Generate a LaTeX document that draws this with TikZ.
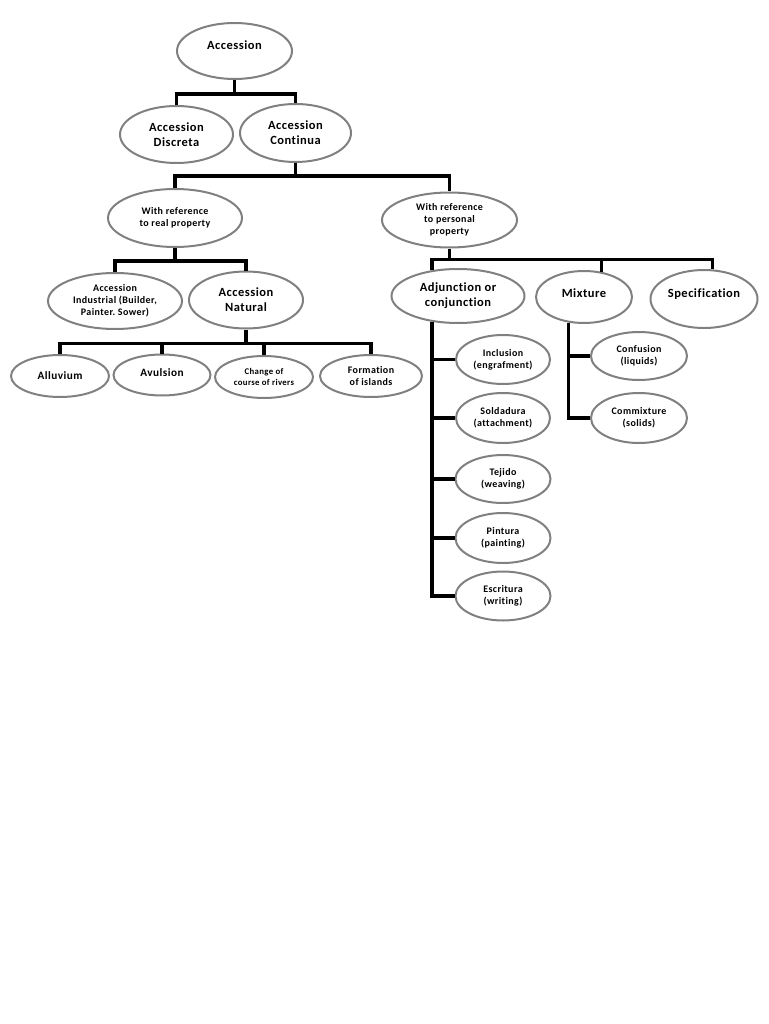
\documentclass[tikz,border=0pt]{standalone}
\usepackage{fontspec}
\setmainfont{Carlito}[LetterSpace=4, Ligatures={NoCommon}]
\usetikzlibrary{shapes.geometric}
\begin{document}
\begin{tikzpicture}[x=0.8pt, y=-0.8pt,
    oval/.style={draw=black!50, line width=1.6pt, ellipse, inner sep=0pt, align=center},
    sz/.style 2 args={minimum width=#1*0.8pt, minimum height=#2*0.8pt},
    big/.style={font=\bfseries\fontsize{10}{12}\selectfont},
    mid/.style={font=\bfseries\fontsize{8}{9.5}\selectfont},
    small/.style={font=\bfseries\fontsize{7}{8.5}\selectfont},
    conn/.style={draw=black, line width=2.8pt}]
      \useasboundingbox (0,0) rectangle (768,1024);
      \node[oval, big, sz={115}{56}, text depth=9pt] (acc) at (234.5,51) {Accession};
      \node[oval, big, sz={113}{57}] (disc) at (176.5,134.5) {Accession\\Discreta};
      \node[oval, big, sz={111}{58}] (cont) at (295.5,133) {Accession\\Continua};
      \node[oval, mid, sz={134}{58}] (real) at (175,218) {With reference\\to real property};
      \node[oval, mid, sz={135}{55}] (pers) at (449.5,220) {With reference\\to personal\\property};
      \node[oval, mid, sz={134}{56}] (ind) at (115,301) {Accession\\Industrial (Builder,\\Painter.\ Sower)};
      \node[oval, big, sz={114}{57}] (nat) at (246,300) {Accession\\Natural};
      \node[oval, big, sz={98}{42}, font=\bfseries\fontsize{9}{11}\selectfont] (allu) at (60,376) {Alluvium};
      \node[oval, big, sz={97}{41}, font=\bfseries\fontsize{9}{11}\selectfont, text depth=4pt] (avul) at (162,375) {Avulsion};
      \node[oval, small, sz={98}{42}] (chg) at (264,377) {Change of\\course of rivers};
      \node[oval, mid, sz={102}{42}] (form) at (371,376) {Formation\\of islands};
      \node[oval, big, sz={133}{54}] (adj) at (458,296) {Adjunction or\\conjunction};
      \node[oval, big, sz={96}{52}, text depth=6pt] (mix) at (584,297) {Mixture};
      \node[oval, big, sz={107}{58}, text depth=9pt] (spec) at (704,299) {Specification};
      \node[oval, mid, sz={94}{49}] (incl) at (503,359.5) {Inclusion\\(engrafment)};
      \node[oval, mid, sz={94}{50}] (sold) at (503,418) {Soldadura\\(attachment)};
      \node[oval, mid, sz={95}{48}] (tej) at (503,479) {Tejido\\(weaving)};
      \node[oval, mid, sz={95}{50}] (pint) at (503,538) {Pintura\\(painting)};
      \node[oval, mid, sz={95}{49}] (escr) at (503,596) {Escritura\\(writing)};
      \node[oval, mid, sz={96}{48}] (conf) at (639,356) {Confusion\\(liquids)};
      \node[oval, mid, sz={96}{50}] (comm) at (639,418) {Commixture\\(solids)};
      \draw[conn] (acc.south) -- ++(0,14) coordinate (j1) -| (disc.north);
      \draw[conn] (j1) -| (cont.north);
      \draw[conn] (cont.south) -- ++(0,13) coordinate (j2) -| (real.north);
      \draw[conn] (j2) -| (pers.north);
      \draw[conn] (real.south) -- ++(0,13) coordinate (j3) -| (ind.north);
      \draw[conn] (j3) -| (nat.north);
      \draw[conn] (nat.south) -- ++(0,14) coordinate (j4) -| (allu.north);
      \draw[conn] (j4) -| (avul.north);
      \draw[conn] (j4) -| (chg.north);
      \draw[conn] (j4) -| (form.north);
      \draw[conn] (pers.south) -- ++(0,11) coordinate (j5) -| (adj.135);
      \draw[conn] (j5) -| (mix.55);
      \draw[conn] (j5) -| (spec.74);
      \draw[conn] (adj.225) |- (escr.west);
      \draw[conn] (incl.west) -- (incl.west -| adj.225);
      \draw[conn] (sold.west) -- (sold.west -| adj.225);
      \draw[conn] (tej.west) -- (tej.west -| adj.225);
      \draw[conn] (pint.west) -- (pint.west -| adj.225);
      \draw[conn] (mix.239) |- (comm.west);
      \draw[conn] (conf.west) -- (conf.west -| mix.239);
    \end{tikzpicture}
\end{document}
